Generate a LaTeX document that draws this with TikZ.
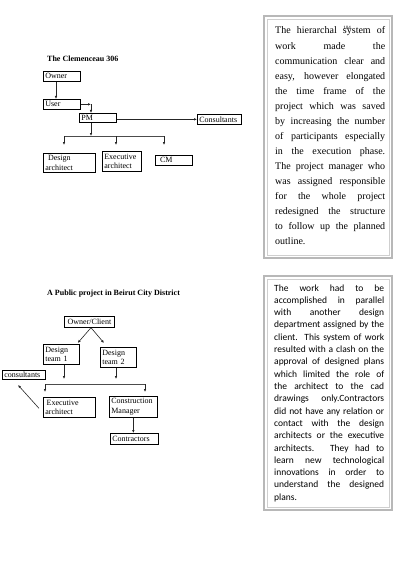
\documentclass[tikz,border=0pt]{standalone}
\usepackage{fontspec}
\setmainfont{Liberation Serif}
\newfontfamily\carlito{Carlito}
\usetikzlibrary{arrows.meta}
\definecolor{framegray}{HTML}{B8B8B8}
\definecolor{frameinner}{HTML}{CFCFCF}
\begin{document}
\begin{tikzpicture}[x=1pt,y=-1pt,
  box/.style={draw,line width=0.7pt,anchor=north west,inner xsep=2pt,inner ysep=0pt,align=left,font=\fontsize{8}{9.6}\selectfont},
  arr/.style={line width=0.6pt,draw=black!85,-{Latex[length=3pt,width=2.6pt]}},
  ln/.style={line width=0.7pt,draw=black!70},
  ttl/.style={anchor=west,inner sep=0pt,font=\bfseries\fontsize{8}{9}\selectfont},
  txta/.style={anchor=base west,inner sep=0pt,font=\fontsize{10}{12}\selectfont},
  txtb/.style={anchor=base west,inner sep=0pt,font=\carlito\fontsize{9.5}{11}\selectfont},
  frameo/.style={draw=framegray,line width=2.4pt},
  framei/.style={draw=frameinner,line width=0.5pt}]
\useasboundingbox (0,0) rectangle (400,567);

% ---------- top diagram ----------
\node[ttl] (title1) at (47,59) {The Clemenceau 306};
\node[box,text width=33pt,minimum width=37pt,minimum height=10pt] (owner) at (43,71) {Owner};
\node[box,text width=33pt,minimum width=37pt,minimum height=10pt] (user) at (43,99) {User};
\node[box,text width=33pt,minimum width=37pt,minimum height=9.5pt] (pm) at (79,113) {PM};
\node[box,text width=40pt,minimum width=44pt,minimum height=10pt] (cons) at (197,114) {Consultants};
\node[box,text width=48pt,minimum width=52pt,minimum height=19pt] (da) at (43,153) {\ Design\\architect};
\node[box,text width=35pt,minimum width=39pt,minimum height=20pt] (ea) at (102,151) {Executive\\architect};
\node[box,text width=33pt,minimum width=37pt,minimum height=10pt] (cm) at (155,155) {\ CM};

\coordinate (pmtop) at ([xshift=12pt]pm.north west);
\draw[arr] ([xshift=13pt]owner.south west) -- ([xshift=13pt]user.north west);
\draw[arr] (user.east) -- (user.east -| pmtop);
\draw[arr] (user.east -| pmtop) -- (pmtop);
\draw[arr] (pm.east |- cons.west) -- (cons.west);
\coordinate (b1) at (91,136);
\coordinate (b1l) at (64,136);
\coordinate (b1m) at (116,136);
\coordinate (b1r) at (164,136);
\coordinate (e1) at (64,145);
\coordinate (e2) at (116,145);
\coordinate (e3) at (164,145);
\draw[ln] (b1l) -- (b1r);
\draw[arr] (pm.south -| pmtop) -- (b1);
\draw[arr] (b1l) -- (e1);
\draw[arr] (b1m) -- (e2);
\draw[arr] (b1r) -- (e3);

% ---------- bottom diagram ----------
\node[ttl] (title2) at (47,294) {A Public project in Beirut City District};
\node[box,text width=46pt,minimum width=50pt,minimum height=11pt] (oc) at (64,316) {\,Owner/Client};
\node[box,text width=32pt,minimum width=36pt,minimum height=20pt] (dt1) at (43,344) {Design\\team 1};
\node[box,text width=32pt,minimum width=36pt,minimum height=20pt] (dt2) at (100,347) {Design\\team 2};
\node[box,text width=39pt,minimum width=43pt,minimum height=9pt] (cons2) at (2,370) {consultants};
\node[box,text width=48pt,minimum width=52pt,minimum height=20pt] (exa) at (43,397) {\,Executive\\architect};
\node[box,text width=44pt,minimum width=48pt,minimum height=21pt] (cmgr) at (109,396) {Construction\\Manager};
\node[box,text width=44pt,minimum width=48pt,minimum height=11pt] (contr) at (110,433) {Contractors};

\draw[arr] ([xshift=27pt]oc.south west) -- ([xshift=-2pt,yshift=1pt]dt1.north east);
\draw[arr] ([xshift=27pt]oc.south west) -- ([xshift=4pt,yshift=4pt]dt2.north west);
\coordinate (c1) at (64,379);
\coordinate (c2) at (116,379);
\draw[arr] ([xshift=21pt]dt1.south west) -- (c1);
\draw[arr] ([xshift=16pt]dt2.south west) -- (c2);
\coordinate (b2l) at (45,384);
\coordinate (b2r) at (145,384);
\coordinate (d1) at (45,392);
\coordinate (d2) at (145,392);
\draw[ln] (b2l) -- (b2r);
\draw[arr] (b2l) -- (d1);
\draw[arr] (b2r) -- (d2);
\coordinate (k) at (18,385);
\draw[arr] ([xshift=-4pt,yshift=-1pt]exa.west) -- (k);
\draw[arr] (cmgr.south) -- (cmgr.south |- contr.north);

% ---------- top text frame ----------
\draw[frameo] (264,16) rectangle (392,258);
\draw[framei] (267,19) rectangle (389,255);
\foreach \t [count=\i] in {{The hierarchal system of},{work made the},{communication clear and},{easy, however elongated},{the time frame of the},{project which was saved},{by increasing the number},{of participants especially},{in the execution phase.},{The project manager who},{was assigned responsible},{for the whole project},{redesigned the structure},{to follow up the planned}}
  \node[txta,name=ta\i] at (275,{34+(\i-1)*15.07}) {\makebox[110pt][s]{\t}};
\node[txta] (ta15) at (275,{34+14*15.07}) {outline.};
\node[inner sep=0pt,font=\fontsize{5}{5}\selectfont] (pgno) at (347,28) {104};

% ---------- bottom text frame ----------
\draw[frameo] (264,276) rectangle (392,510);
\draw[framei] (267,279) rectangle (389,507);
\foreach \t [count=\i] in {{The work had to be},{accomplished in parallel},{with another design},{department assigned by the},{client. This system of work},{resulted with a clash on the},{approval of designed plans},{which limited the role of},{the architect to the cad},{drawings only.Contractors},{did not have any relation or},{contact with the design},{architects or the executive},{architects. They had to},{learn new technological},{innovations in order to},{understand the designed}}
  \node[txtb,name=tb\i] at (274,{291+(\i-1)*12.31}) {\makebox[110pt][s]{\t}};
\node[txtb] (tb18) at (274,{291+17*12.31}) {plans.};
\end{tikzpicture}
\end{document}
